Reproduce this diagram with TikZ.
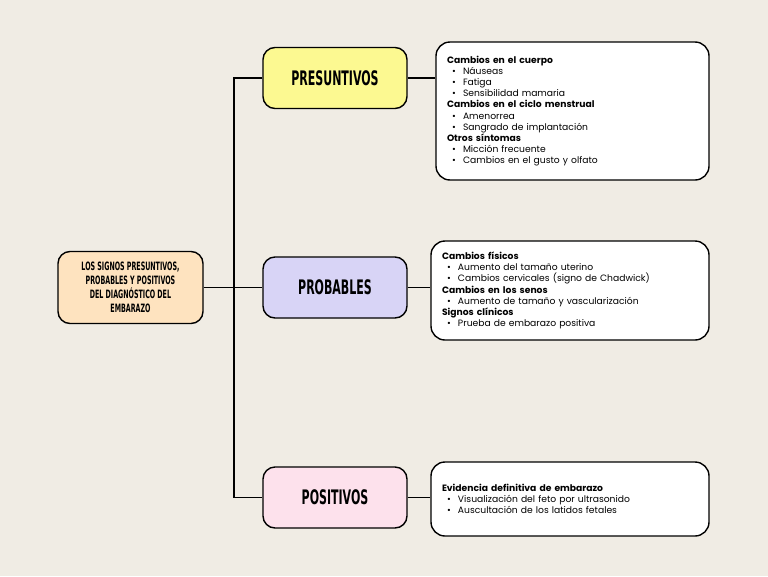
\documentclass[tikz,border=0pt]{standalone}
\usepackage{fontspec}
\setmainfont{Poppins}
\newfontfamily\titlefont[FakeStretch=0.55]{DejaVu Sans}
\usepackage{tikz}
\usetikzlibrary{positioning}
\usepackage{xcolor}

\definecolor{paper}{HTML}{F0ECE4}
\definecolor{rootfill}{HTML}{FEE3BF}
\definecolor{presfill}{HTML}{FCF991}
\definecolor{probfill}{HTML}{D8D4F6}
\definecolor{posfill}{HTML}{FDE1EC}

\newcommand{\itm}[1]{\makebox[16pt][l]{\hspace{5pt}\textbullet}#1}

\begin{document}
\begin{tikzpicture}[x=1pt,y=-1pt,
    rootbox/.style={draw, line width=1.4pt, rounded corners=12pt, fill=rootfill,
        minimum width=145pt, minimum height=72pt, align=center,
        font=\titlefont\bfseries\fontsize{11.5}{14}\selectfont},
    catbox/.style={draw, line width=1.4pt, rounded corners=12pt,
        minimum width=144pt, minimum height=61pt,
        font=\titlefont\bfseries\fontsize{20}{22}\selectfont},
    detbox/.style={draw, line width=1.4pt, rounded corners=14pt, fill=white,
        inner xsep=11pt, inner ysep=0pt, align=left,
        font=\fontsize{9.2}{11.2}\selectfont},
    link/.style={line width=1.2pt}]
                    % Background
                    \fill[paper] (0,0) rectangle (768,576);
                    \useasboundingbox (0,0) rectangle (768,576);

                    % Trunk coordinate
                    \coordinate (trunk) at (234,0);

                    % Main nodes
                    \node[rootbox] (root) at (130.5,287.5) {LOS SIGNOS PRESUNTIVOS,\\PROBABLES Y POSITIVOS\\DEL DIAGNÓSTICO DEL\\EMBARAZO};
                    \node[catbox, fill=presfill] (pres) at (335,78) {PRESUNTIVOS};
                    \node[catbox, fill=probfill] (prob) at (335,287.5) {PROBABLES};
                    \node[catbox, fill=posfill] (pos) at (335,497.5) {POSITIVOS};

                    % Detail boxes
                    \node[detbox, text width=251pt, minimum height=138pt] (presdet) at (572.5,111) {%
                        \textbf{Cambios en el cuerpo}\\
                        \itm{Náuseas}\\
                        \itm{Fatiga}\\
                        \itm{Sensibilidad mamaria}\\
                        \textbf{Cambios en el ciclo menstrual}\\
                        \itm{Amenorrea}\\
                        \itm{Sangrado de implantación}\\
                        \textbf{Otros síntomas}\\
                        \itm{Micción frecuente}\\
                        \itm{Cambios en el gusto y olfato}};
                    \node[detbox, text width=256pt, minimum height=99pt] (probdet) at (570,290.5) {%
                        \textbf{Cambios físicos}\\
                        \itm{Aumento del tamaño uterino}\\
                        \itm{Cambios cervicales (signo de Chadwick)}\\
                        \textbf{Cambios en los senos}\\
                        \itm{Aumento de tamaño y vascularización}\\
                        \textbf{Signos clínicos}\\
                        \itm{Prueba de embarazo positiva}};
                    \node[detbox, text width=256pt, minimum height=74pt] (posdet) at (570,499) {%
                        \textbf{Evidencia definitiva de embarazo}\\
                        \itm{Visualización del feto por ultrasonido}\\
                        \itm{Auscultación de los latidos fetales}};

                    % Connectors
                    \draw[link] (root.east) -- (prob.west);
                    \draw[link] (pres.west) -- (pres.west -| trunk) -- (pos.west -| trunk) -- (pos.west);
                    \draw[link] (pres.east) -- (pres.east -| presdet.west);
                    \draw[link] (prob.east) -- (prob.east -| probdet.west);
                    \draw[link] (pos.east) -- (pos.east -| posdet.west);

\end{tikzpicture}
\end{document}
